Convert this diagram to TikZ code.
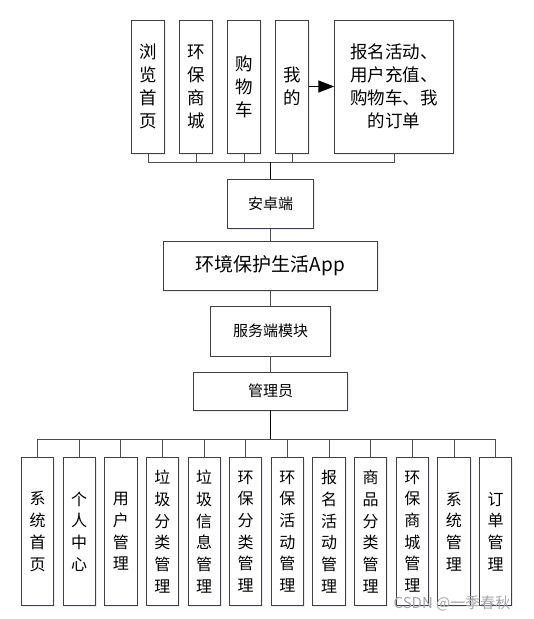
\documentclass[tikz,border=0pt]{standalone}
\usepackage{fontspec}
\setmainfont{Noto Sans CJK SC}
\usetikzlibrary{arrows.meta,shadows}
\begin{document}
\begin{tikzpicture}[x=1pt,y=-1pt,
    box/.style={draw=black!75,line width=0.8pt,fill=white,inner sep=0pt,align=center,
      drop shadow={shadow xshift=1.5pt,shadow yshift=-1.5pt,fill=blue!40,opacity=0.2}},
    colbox/.style={box,minimum width=32.3pt,minimum height=133pt,font=\fontsize{17.5}{23}\selectfont},
    modbox/.style={box,minimum width=32.3pt,minimum height=148.4pt,font=\fontsize{16}{21.7}\selectfont},
    midbox/.style={box,font=\fontsize{15}{18}\selectfont},
    link/.style={draw=black!70,line width=0.8pt},
    trunk/.style={draw=black,line width=1.3pt},
    watermark/.style={text=black!35,inner sep=0pt,font=\fontsize{15}{17}\selectfont}]
      \useasboundingbox (0,0) rectangle (534,619);
      \draw
        (148,86.5) node[colbox] (t1){浏\\览\\首\\页}
        (196,86.5) node[colbox] (t2){环\\保\\商\\城}
        (244,86.5) node[colbox] (t3){购\\物\\车}
        (292,86.5) node[colbox] (t4){我\\的}
        (394,86.5) node[colbox,minimum width=118.6pt] (t5){报名活动、\\用户充值、\\购物车、我\\的订单}
        (270.5,203.8) node[midbox,minimum width=86pt,minimum height=49pt] (andr){安卓端}
        (270.5,266) node[midbox,minimum width=214pt,minimum height=49.4pt,font=\fontsize{19}{22}\selectfont] (app){环境保护生活App}
        (270.5,331.3) node[midbox,minimum width=119.4pt,minimum height=49.3pt] (serv){服务端模块}
        (270.5,391.2) node[midbox,minimum width=154.6pt,minimum height=37.7pt] (admin){管理员};
      \draw
        (37.5,531.5) node[modbox] (m1){系\\统\\首\\页}
        (79.1,531.5) node[modbox] (m2){个\\人\\中\\心}
        (120.8,531.5) node[modbox] (m3){用\\户\\管\\理}
        (162.4,531.5) node[modbox] (m4){垃\\圾\\分\\类\\管\\理}
        (204.1,531.5) node[modbox] (m5){垃\\圾\\信\\息\\管\\理}
        (245.7,531.5) node[modbox] (m6){环\\保\\分\\类\\管\\理}
        (287.3,531.5) node[modbox] (m7){环\\保\\活\\动\\管\\理}
        (329.0,531.5) node[modbox] (m8){报\\名\\活\\动\\管\\理}
        (370.6,531.5) node[modbox] (m9){商\\品\\分\\类\\管\\理}
        (412.3,531.5) node[modbox] (m10){环\\保\\商\\城\\管\\理}
        (453.9,531.5) node[modbox] (m11){系\\统\\管\\理}
        (495.5,531.5) node[modbox] (m12){订\\单\\管\\理};
      \coordinate (topbus) at (270.5,162.3);
      \coordinate (botbus) at (270.5,439.3);
      \begin{scope}[link]
        \draw (t1.south) |- (topbus);
        \draw (t2.south) |- (topbus);
        \draw (t3.south) |- (topbus);
        \draw (t4.south) |- (topbus);
        \draw (t5.south) |- (topbus);
        \draw (andr.south) to (app.north);
        \draw (app.south) to (serv.north);
        \draw (serv.south) to (admin.north);
        \draw (botbus) -| (m1.north);
        \draw (botbus) -| (m2.north);
        \draw (botbus) -| (m3.north);
        \draw (botbus) -| (m4.north);
        \draw (botbus) -| (m5.north);
        \draw (botbus) -| (m6.north);
        \draw (botbus) -| (m7.north);
        \draw (botbus) -| (m8.north);
        \draw (botbus) -| (m9.north);
        \draw (botbus) -| (m10.north);
        \draw (botbus) -| (m11.north);
        \draw (botbus) -| (m12.north);
      \end{scope}
      \draw[trunk] (topbus) to (andr.north);
      \draw[trunk] (admin.south) to (botbus);
      \draw[trunk,-{Triangle[length=16pt,width=12pt]}] (t4.east) to (t5.west);
      \node[watermark] (wm) at (452,603) {CSDN @一季春秋};
    \end{tikzpicture}
\end{document}
